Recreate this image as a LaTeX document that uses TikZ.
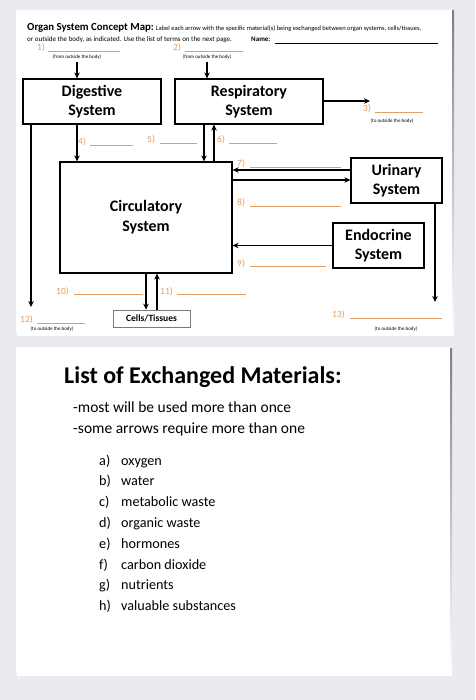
\documentclass[tikz,border=0pt]{standalone}
\usepackage{fontspec}
\setmainfont{Carlito}
\usetikzlibrary{arrows.meta}
\definecolor{bg}{HTML}{EAEAEF}
\definecolor{shade}{HTML}{DCDCE2}
\definecolor{lab}{HTML}{E39E63}
\definecolor{cellgray}{HTML}{7A7A7A}
\begin{document}
\begin{tikzpicture}[x=1pt,y=-1pt,
  sysbox/.style={draw,line width=1.2pt,inner sep=0pt,align=center,
    font=\fontsize{16}{19}\selectfont\bfseries},
  arr/.style={-{Stealth[length=6pt,width=5.5pt]},line width=1.4pt},
  num/.style={anchor=base west,text=lab,inner sep=0pt,font=\fontsize{9.5}{10}\selectfont},
  note/.style={anchor=base,inner sep=0pt,font=\fontsize{5}{6}\selectfont},
  uline/.style={lab,line width=0.6pt},
  hdr/.style={anchor=base west,inner sep=0pt},
  item/.style={anchor=base west,inner sep=0pt,font=\fontsize{15.5}{17}\selectfont},
  litem/.style={anchor=base west,inner sep=0pt,font=\fontsize{14.2}{16}\selectfont}]
\useasboundingbox (0,0) rectangle (475,700);
% background and sheets
\fill[bg] (0,0) rectangle (475,700);
\fill[shade] (17,11) rectangle (454,335);
\fill[white] (16,10) rectangle (452,333);
\fill[shade] (17,348) rectangle (452,675);
\fill[white] (16,347) rectangle (450,673);

% header
\node[hdr,font=\fontsize{10.8}{12}\selectfont\bfseries] (title) at (27,31) {Organ System Concept Map:};
\node[hdr,font=\fontsize{6.5}{7}\selectfont] (sub1) at (title.base east) {\ Label each arrow with the specific material(s) being exchanged between organ systems, cells/tissues,};
\node[hdr,font=\fontsize{7}{8}\selectfont] (sub2) at (27,42) {or outside the body, as indicated. Use the list of terms on the next page.};
\node[hdr,font=\fontsize{7}{8}\selectfont\bfseries] (name) at (251,42) {Name:};
\draw[line width=0.4pt] (275,43) -- (438,43);

% system boxes
\node[sysbox,minimum width=138pt,minimum height=45pt] (dig) at (92,101.5) {Digestive\\System};
\node[sysbox,minimum width=148pt,minimum height=45pt] (resp) at (249,101.5) {Respiratory\\System};
\node[sysbox,minimum width=172pt,minimum height=111pt,font=\fontsize{16}{20}\selectfont\bfseries] (circ) at (146,217.5) {Circulatory\\System};
\node[sysbox,minimum width=91pt,minimum height=45pt] (uri) at (396.5,180.5) {Urinary\\System};
\node[sysbox,minimum width=91pt,minimum height=45pt] (endo) at (378.5,245.5) {Endocrine\\System};
\node[draw=cellgray,line width=0.6pt,minimum width=77pt,minimum height=17pt,inner sep=0pt,font=\fontsize{9.5}{10}\selectfont\bfseries] (cells) at (151.5,318.5) {Cells/Tissues};

% free ends
\coordinate (in1) at (77,62);
\coordinate (in2) at (207,62);
\coordinate (out3) at (370,101);
\coordinate (out12) at (31,307);
\coordinate (out13) at (435,302);

% connectors
\draw[arr] (in1) -- (in1 |- dig.north);
\draw[arr] (in2) -- (in2 |- resp.north);
\draw[arr] (resp.east |- out3) -- (out3);
\draw[arr] (dig.south -| out12) -- (out12);
\draw[arr] (dig.south -| in1) -- (circ.north -| in1);
\draw[arr] ([xshift=-45pt]resp.south) -- ([xshift=-45pt]resp.south |- circ.north);
\draw[arr] ([xshift=-35pt]resp.south |- circ.north) -- ([xshift=-35pt]resp.south);
\draw[arr] ([yshift=0.5pt]uri.west -| circ.east) -- ([yshift=0.5pt]uri.west);
\draw[arr] ([yshift=10.5pt]uri.west) -- ([yshift=10.5pt]uri.west -| circ.east);
\draw[arr] (endo.west) -- (endo.west -| circ.east);
\draw[arr] (uri.south -| out13) -- (out13);
\draw[arr] ([xshift=-5.5pt]cells.north |- circ.south) -- ([xshift=-5.5pt]cells.north);
\draw[arr] ([xshift=5.5pt]cells.north) -- ([xshift=5.5pt]cells.north |- circ.south);

% numbered blanks
\node[num] (n1) at (37,51) {1)};   \draw[uline] (48,51.5) -- (120,51.5);
\node[note] (f1) at (77,58.5) {(from outside the body)};
\node[num] (n2) at (173,51) {2)};  \draw[uline] (185,51.5) -- (243,51.5);
\node[note] (f2) at (207,58.5) {(from outside the body)};
\node[num] (n3) at (363,112) {3)}; \draw[uline] (375,112.5) -- (423,112.5);
\node[note] (f3) at (392,122.5) {(to outside the body)};
\node[num] (n4) at (78,145) {4)};  \draw[uline] (90,145.5) -- (133,145.5);
\node[num] (n5) at (147,143) {5)}; \draw[uline] (160,143.5) -- (197,143.5);
\node[num] (n6) at (217,143) {6)}; \draw[uline] (229,143.5) -- (277,143.5);
\node[num] (n7) at (237,167) {7)}; \draw[uline] (250,167.5) -- (341,167.5);
\node[num] (n8) at (237,206) {8)}; \draw[uline] (250,206.5) -- (341,206.5);
\node[num] (n9) at (237,266) {9)}; \draw[uline] (250,266.5) -- (326,266.5);
\node[num] (n10) at (56,294) {10)}; \draw[uline] (74,294.5) -- (143,294.5);
\node[num] (n11) at (160,294) {11)}; \draw[uline] (177,294.5) -- (246,294.5);
\node[num] (n12) at (20,322) {12)}; \draw[uline] (37,323) -- (85,323);
\node[note] (f12) at (52,330.5) {(to outside the body)};
\node[num] (n13) at (332,317) {13)}; \draw[uline] (350,318) -- (442,318);
\node[note] (f13) at (396,330) {(to outside the body)};

% list sheet
\node[hdr,font=\fontsize{24}{28}\selectfont\bfseries] (lt) at (64,383) {List of Exchanged Materials:};
\node[item] (r1) at (73,412) {-most will be used more than once};
\node[item] (r2) at (73,433) {-some arrows require more than one};
\foreach \l/\t [count=\i from 0] in {a/oxygen,b/water,c/metabolic waste,d/organic waste,e/hormones,f/carbon dioxide,g/nutrients,h/valuable substances}{
  \node[litem] (k\l) at (99,465+20.8*\i) {\l)};
  \node[litem] (t\l) at (121,465+20.8*\i) {\t};
}
\end{tikzpicture}
\end{document}
